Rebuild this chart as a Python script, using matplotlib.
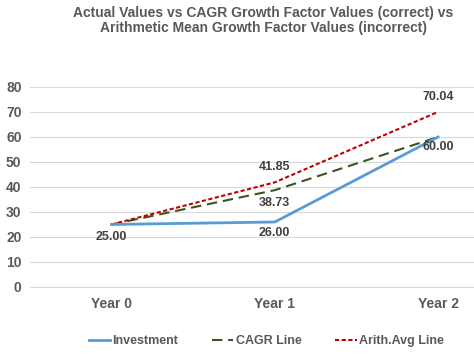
import matplotlib
matplotlib.use("Agg")
import matplotlib.pyplot as plt

plt.rcParams['font.family'] = ['Liberation Sans', 'DejaVu Sans']

years = ['Year 0', 'Year 1', 'Year 2']
investment = [25.00, 26.00, 60.00]
cagr_line = [25.00, 38.73, 60.00]
arith_line = [25.00, 41.85, 70.04]

gray = '#595959'
blue = '#5B9BD5'
green = '#375623'
red = '#C00000'

fig = plt.figure(figsize=(4.74, 3.59), dpi=100)
ax = fig.add_axes([0.063, 0.2006, 0.937, 0.5571])

x = range(len(years))
ax.plot(x, investment, color=blue, lw=2, label='Investment', zorder=3)
ax.plot(x, cagr_line, color=green, lw=1.5, ls=(0, (5, 2.8)), label='CAGR Line', zorder=2)
ax.plot(x, arith_line, color=red, lw=1.5, ls=(0, (2, 1.2)), label='Arith.Avg Line', zorder=2)

# data labels
lab = dict(color='#404040', fontsize=9, fontweight='bold', ha='center', va='center')
ax.annotate(f'{investment[0]:.2f}', (0, investment[0]), xytext=(0, -9), textcoords='offset points', **lab)
ax.annotate(f'{investment[1]:.2f}', (1, investment[1]), xytext=(0, -8), textcoords='offset points', **lab)
ax.annotate(f'{investment[2]:.2f}', (2, investment[2]), xytext=(0, -7.5), textcoords='offset points', **lab)
ax.annotate(f'{cagr_line[1]:.2f}', (1, cagr_line[1]), xytext=(0, -9), textcoords='offset points', **lab)
ax.annotate(f'{arith_line[1]:.2f}', (1, arith_line[1]), xytext=(0, 11), textcoords='offset points', **lab)
ax.annotate(f'{arith_line[2]:.2f}', (2, arith_line[2]), xytext=(0, 11), textcoords='offset points', **lab)

ax.set_xlim(-0.5, 2.22)
ax.set_ylim(0, 80)
ax.set_yticks(range(0, 81, 10))
ax.set_xticks(list(x))
ax.set_xticklabels(years)
ax.grid(axis='y', color='#D9D9D9', lw=0.8)
ax.set_axisbelow(True)
for s in ax.spines.values():
    s.set_visible(False)
ax.spines['bottom'].set_visible(True)
ax.spines['bottom'].set_color('#D9D9D9')
ax.tick_params(length=0, colors=gray, labelsize=10)
ax.tick_params(axis='y', pad=6)
ax.tick_params(axis='x', pad=7)
for t in ax.get_xticklabels() + ax.get_yticklabels():
    t.set_fontweight('bold')

fig.text(0.555, 0.944, 'Actual Values vs CAGR Growth Factor Values (correct) vs\nArithmetic Mean Growth Factor Values (incorrect)',
         ha='center', va='center', fontsize=10, fontweight='bold', color=gray, linespacing=1.1)

leg = fig.legend(loc='center', bbox_to_anchor=(0.562, 0.05), ncol=3, frameon=False,
                 fontsize=9, handlelength=1.7, handletextpad=0.2, columnspacing=2.7)
for t in leg.get_texts():
    t.set_color(gray)
    t.set_fontweight('bold')

fig.savefig('out.png', dpi=100)
